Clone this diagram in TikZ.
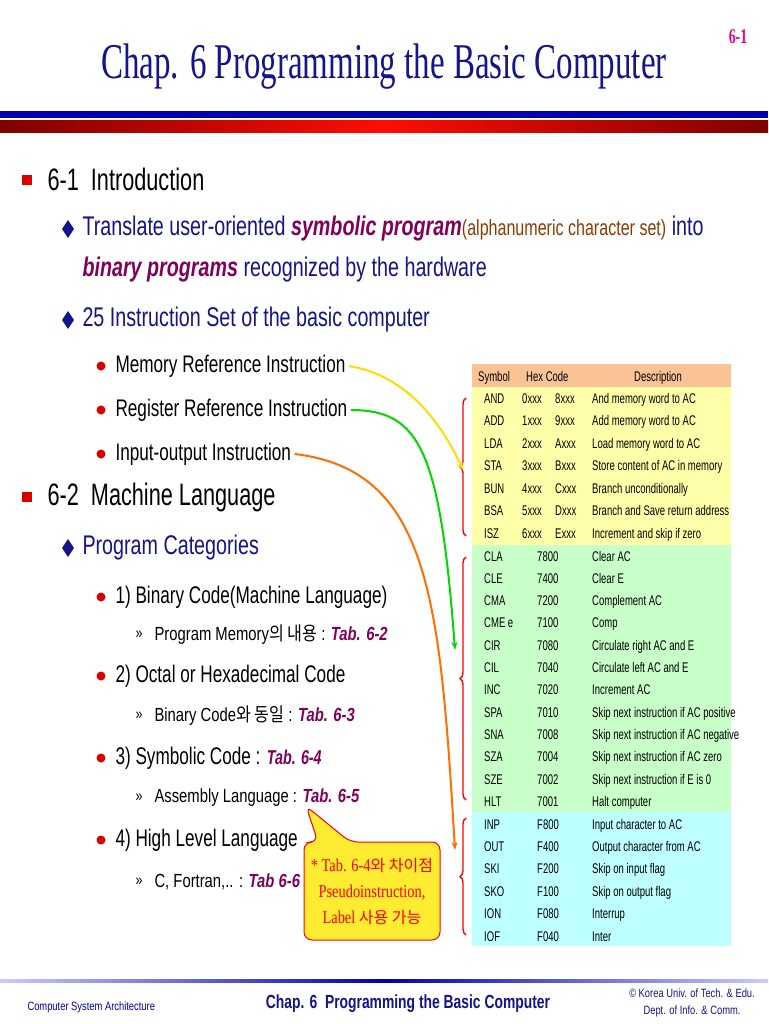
\documentclass[tikz,border=0pt]{standalone}
\usepackage{fontspec}
\setmainfont{Liberation Sans}[FakeStretch=0.78]
\newfontfamily\fa{Liberation Sans}[FakeStretch=0.70]
\newfontfamily\fb{Liberation Sans}[FakeStretch=0.73]
\newfontfamily\fc{Liberation Sans}[FakeStretch=0.715]
\newfontfamily\ft{Liberation Sans}[FakeStretch=0.68]
\newfontfamily\titlefont{Liberation Serif}[FakeStretch=0.66]
\newfontfamily\callfont{Liberation Serif}[FakeStretch=0.8]
\newfontfamily\kr{Noto Sans CJK KR}[FakeStretch=0.85]
\newfontfamily\krs{Noto Sans CJK KR}
\usetikzlibrary{decorations.pathreplacing,arrows.meta,shapes.geometric}
\definecolor{tblue}{RGB}{20,20,140}
\definecolor{tbrown}{RGB}{140,60,0}
\definecolor{tpurple}{RGB}{130,0,90}
\definecolor{hdr}{RGB}{250,195,150}
\definecolor{yel}{RGB}{255,255,170}
\definecolor{grn}{RGB}{200,255,200}
\definecolor{cyn}{RGB}{190,255,255}
\definecolor{orng}{RGB}{255,110,0}
\begin{document}
\begin{tikzpicture}[x=1pt,y=-1pt,
  lvl1/.style={anchor=west,font=\fa\fontsize{31}{34}\selectfont},
  lvl2/.style={anchor=west,text=tblue,font=\fb\fontsize{27}{30}\selectfont},
  lvl3/.style={anchor=west,font=\fc\fontsize{24}{28}\selectfont},
  lvl4/.style={anchor=west,font=\fontsize{19}{22}\selectfont},
  sq/.style={fill=red!85!black,minimum size=10pt,inner sep=0pt},
  dia/.style={diamond,fill=tblue,minimum width=12pt,minimum height=18pt,inner sep=0pt},
  dot/.style={circle,fill=red!85!black,minimum size=9pt,inner sep=0pt},
  raq/.style={anchor=center,font=\fontsize{16}{18}\selectfont},
  cell/.style={anchor=base west,inner sep=0pt,font=\ft\fontsize{14}{15}\selectfont},
  brace/.style={draw=red,line width=1.4pt,decorate,decoration={brace,amplitude=6pt}},
  arr/.style={line width=2pt,-{Stealth[length=8pt]}}]
\useasboundingbox (0,0) rectangle (768,1024);
\fill[white] (0,0) rectangle (768,1024);
% title
\node[text=tblue,font=\titlefont\fontsize{50}{54}\selectfont] (title) at (384,67) {Chap. 6 Programming the Basic Computer};
\node[text=magenta,font=\titlefont\bfseries\fontsize{21}{22}\selectfont] (pg) at (738,37) {6-1};
\fill[blue!70!black] (0,111) rectangle (768,118);
\shade[left color=red!90!orange,right color=red!50!black] (384,121) rectangle (768,133);
\shade[left color=red!50!black,right color=red!90!orange] (0,121) rectangle (384.5,133);
% level 1
\node[sq] (s1) at (27,180) {};
\node[lvl1] (t1) at (44,179) {6-1\ \ Introduction};
\node[dia] (d1) at (68,229) {};
\node[lvl2] (t2) at (79,229) {Translate user-oriented \textcolor{tpurple}{\textbf{\textit{symbolic program}}}\textcolor{tbrown}{\fontsize{22}{24}\selectfont(alphanumeric character set)} into};
\node[lvl2] (t2b) at (79,270) {\textcolor{tpurple}{\textbf{\textit{binary programs}}} recognized by the hardware};
\node[dia] (d2) at (68,320) {};
\node[lvl2] (t3) at (79,320) {25 Instruction Set of the basic computer};
\node[dot] (b1) at (101,366) {};
\node[lvl3] (m1) at (112,366) {Memory Reference Instruction};
\node[dot] (b2) at (101,410) {};
\node[lvl3] (m2) at (112,410) {Register Reference Instruction};
\node[dot] (b3) at (101,454) {};
\node[lvl3] (m3) at (112,454) {Input-output Instruction};
\node[sq] (s2) at (27,497) {};
\node[lvl1] (t4) at (44,497) {6-2\ \ Machine Language};
\node[dia] (d3) at (68,548) {};
\node[lvl2] (t5) at (79,548) {Program Categories};
\node[dot] (c1) at (101,597) {};
\node[lvl3] (p1) at (112,597) {1) Binary Code(Machine Language)};
\node[raq] (r1) at (139,635) {»};
\node[lvl4] (q1) at (151,635) {Program Memory{\kr 의 내용} : \textcolor{tpurple}{\textbf{\textit{Tab. 6-2}}}};
\node[dot] (c2) at (101,676) {};
\node[lvl3] (p2) at (112,676) {2) Octal or Hexadecimal Code};
\node[raq] (r2) at (139,716) {»};
\node[lvl4] (q2) at (151,716) {Binary Code{\kr 와 동일} : \textcolor{tpurple}{\textbf{\textit{Tab. 6-3}}}};
\node[dot] (c3) at (101,758) {};
\node[lvl3] (p3) at (112,758) {3) Symbolic Code : \textcolor{tpurple}{\textbf{\textit{\fontsize{20}{22}\selectfont Tab. 6-4}}}};
\node[raq] (r3) at (139,798) {»};
\node[lvl4] (q3) at (151,798) {Assembly Language : \textcolor{tpurple}{\textbf{\textit{Tab. 6-5}}}};
\node[dot] (c4) at (101,840) {};
\node[lvl3] (p4) at (112,840) {4) High Level Language};
\node[raq] (r4) at (139,882) {»};
\node[lvl4] (q4) at (151,882) {C, Fortran,.. : \textcolor{tpurple}{\textbf{\textit{Tab 6-6}}}};
% callout
\coordinate (tip) at (306,806);
\draw[draw=red,fill=yellow!90!orange!80,line width=1pt,rounded corners=8pt]
  (304,842) -- (318,842) -- (tip) -- (350,842) -- (440,842) -- (440,940) -- (304,940) -- cycle;
\node[text=red,align=center,font=\callfont\fontsize{18}{26}\selectfont] (call) at (372,891)
  {* Tab. 6-4{\krs\fontsize{16}{18}\selectfont 와 차이점}\\Pseudoinstruction,\\Label {\krs\fontsize{16}{18}\selectfont 사용 가능}};
% table
\fill[hdr] (472,364) rectangle (731,387);
\fill[yel] (472,387) rectangle (731,545);
\fill[grn] (472,545) rectangle (731,812);
\fill[cyn] (472,812) rectangle (731,946);
\node[cell] (h1) at (478,381) {Symbol};
\node[cell] (h2) at (526,381) {Hex Code};
\node[cell] (h3) at (634,381) {Description};
\foreach \s/\a/\b/\d [count=\i] in {AND/0xxx/8xxx/And memory word to AC,ADD/1xxx/9xxx/Add memory word to AC,LDA/2xxx/Axxx/Load memory word to AC,STA/3xxx/Bxxx/Store content of AC in memory,BUN/4xxx/Cxxx/Branch unconditionally,BSA/5xxx/Dxxx/Branch and Save return address,ISZ/6xxx/Exxx/Increment and skip if zero}{
  \node[cell] (ms\i) at (484,{403+(\i-1)*22.5}) {\s};
  \node[cell] (ma\i) at (522,{403+(\i-1)*22.5}) {\a};
  \node[cell] (mb\i) at (555,{403+(\i-1)*22.5}) {\b};
  \node[cell] (md\i) at (592,{403+(\i-1)*22.5}) {\d};}
\foreach \s/\a/\d [count=\i] in {CLA/7800/Clear AC,CLE/7400/Clear E,CMA/7200/Complement AC,CME e/7100/Comp,CIR/7080/Circulate right AC and E,CIL/7040/Circulate left AC and E,INC/7020/Increment AC,SPA/7010/Skip next instruction if AC positive,SNA/7008/Skip next instruction if AC negative,SZA/7004/Skip next instruction if AC zero,SZE/7002/Skip next instruction if E is 0,HLT/7001/Halt computer}{
  \node[cell] (rs\i) at (484,{561+(\i-1)*22.3}) {\s};
  \node[cell] (ra\i) at (537,{561+(\i-1)*22.3}) {\a};
  \node[cell] (rd\i) at (592,{561+(\i-1)*22.3}) {\d};}
\foreach \s/\a/\d [count=\i] in {INP/F800/Input character to AC,OUT/F400/Output character from AC,SKI/F200/Skip on input flag,SKO/F100/Skip on output flag,ION/F080/Interrup,IOF/F040/Inter}{
  \node[cell] (is\i) at (484,{829+(\i-1)*22.4}) {\s};
  \node[cell] (ia\i) at (537,{829+(\i-1)*22.4}) {\a};
  \node[cell] (id\i) at (592,{829+(\i-1)*22.4}) {\d};}
% braces
\draw[brace] (466,536) -- (466,398);
\draw[brace] (466,800) -- (466,557);
\draw[brace] (466,935) -- (466,818);
% arrows
\draw[arr,draw=yellow!80!orange] (m1.east) .. controls (405,375) and (440,420) .. (463,470);
\draw[arr,draw=green!85!black] (m2.east) .. controls (420,410) and (440,450) .. (455,650);
\draw[arr,draw=orng] (m3.east) .. controls (430,470) and (440,600) .. (455,850);
% footer
\shade[left color=blue!20,right color=blue!20,middle color=blue!70!black] (0,979) rectangle (768,982);
\node[text=blue!70!black,font=\fontsize{12}{14}\selectfont,anchor=west] (f1) at (24,1007) {Computer System Architecture};
\node[text=tblue,font=\fb\bfseries\fontsize{19}{20}\selectfont] (f2) at (408,1004) {Chap. 6\ \ Programming the Basic Computer};
\node[text=tblue,align=center,font=\fontsize{12}{17}\selectfont] (f3) at (692,1003) {\copyright{} Korea Univ. of Tech. \& Edu.\\Dept. of Info. \& Comm.};
\end{tikzpicture}
\end{document}
